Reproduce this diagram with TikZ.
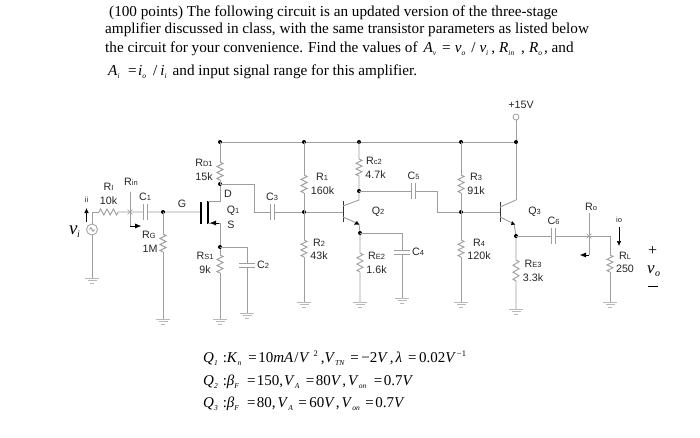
\documentclass[tikz,border=0pt]{standalone}
\usepackage{fontspec}
\setmainfont{Liberation Serif}
\newfontfamily\arialf{Liberation Sans}
\usetikzlibrary{arrows.meta}
\definecolor{wire}{gray}{0.62}
\definecolor{gndc}{gray}{0.72}
\tikzset{
 x=1pt,y=-1pt,
 wr/.style={draw=wire,line width=0.9pt},
 gw/.style={draw=gndc,line width=0.8pt},
 term/.style={circle,fill=black,inner sep=0,minimum size=4pt},
 lab/.style={font=\arialf\fontsize{10.7}{12}\selectfont,text=black!85,inner sep=0,align=center},
 small/.style={font=\arialf\fontsize{7.5}{8}\selectfont,text=black!85,inner sep=0},
 para/.style={font=\fontsize{15.2}{17}\selectfont,text=black,inner sep=0,anchor=base west},
 eqn/.style={font=\fontsize{15}{17}\selectfont,text=black,inner sep=0,anchor=base west},
 arr/.style={-{Latex[length=5pt,width=4.5pt]},black,line width=0.6pt},
}
\newcommand{\sbs}[1]{\raisebox{-3pt}{\fontsize{7.5}{8}\selectfont\itshape #1}}
\newcommand{\spp}[1]{\raisebox{6pt}{\fontsize{8.5}{9}\selectfont #1}}
\newcommand{\ii}[1]{\textit{#1}}
\newcommand{\hs}[1]{\hspace{#1pt}}
\newcommand{\lsb}[1]{\scalebox{.7}{#1}}
\newcommand{\vres}[3]{%
 \pgfmathsetmacro{\hh}{(#3-#2)/6}
 \draw[wr] (#1,#2) -- ++(3,{\hh/2}) -- ++(-6,\hh) -- ++(6,\hh) -- ++(-6,\hh) -- ++(6,\hh) -- ++(-6,\hh) -- ++(3,{\hh/2});}
\newcommand{\gnd}[2]{%
 \draw[gw] (#1-7,#2) -- (#1+7,#2) (#1-4.5,#2+2.5) -- (#1+4.5,#2+2.5) (#1-2,#2+5) -- (#1+2,#2+5);}
\newcommand{\hcap}[2]{%
 \draw[wr] (#1-8,#2-2) -- (#1+8,#2-2) (#1-8,#2+2) -- (#1+8,#2+2);}
\begin{document}
\begin{tikzpicture}
\useasboundingbox (0,0) rectangle (700,438);
\fill[white] (0,0) rectangle (700,438);
% text
\node[para] (t1) at (109,17) {(100 points) The following circuit is an updated version of the three-stage};
\node[para] (t2) at (105,34) {amplifier discussed in class, with the same transistor parameters as listed below};
\node[para] (t3) at (105,53) {the circuit for your convenience. Find the values of\hs{6}\ii{A}\sbs{v}\hs{6}=\hs{4}\ii{v}\sbs{o}\hs{6}/\hs{4}\ii{v}\sbs{i}\hs{3},\hs{4}\ii{R}\sbs{in}\hs{7},\hs{4}\ii{R}\sbs{o}\hs{2}, and};
\node[para] (t4) at (108,76) {\ii{A}\sbs{i}\hs{8.5}=\hs{1.5}\ii{i}\sbs{o}\hs{7}/\hs{3}\ii{i}\sbs{i}\hs{6}and input signal range for this amplifier.};
% rail
\node[circle,draw=wire,line width=0.8pt,inner sep=0,minimum size=6pt] (vcc) at (516,117) {};
\node[lab] (vl) at (521,105) {+15V};
\draw[wr] (220,142) -- (516,142) (vcc) -- (516,142) -- (516,200);
\node[term] (d1) at (220,142) {};
\node[term] (d2) at (304,142) {};
\node[term] (d3) at (359,142) {};
\node[term] (d4) at (461,142) {};
\node[term] (d5) at (516,142) {};
% source
\node[circle,draw=wire,line width=0.8pt,inner sep=0,minimum size=11pt] (vs) at (92,229.5) {};
\draw[wr] (89.5,229.5) .. controls (90.5,227) and (91.5,227) .. (92,229.5) .. controls (92.5,232) and (93.5,232) .. (94.5,229.5);
\draw[wr] (vs) -- (92,212) -- (99,212) (vs) -- (92,278);
\gnd{92}{278}
\draw[arr] (86.5,222) -- (86.5,208);
\node[small] (ii) at (86.5,200) {ii};
\node[eqn,font=\fontsize{19}{20}\selectfont\itshape] (vi) at (69,234) {v};
\node[eqn,font=\fontsize{10}{12}\selectfont\itshape] (vis) at (77,237) {i};
% input
\draw[wr] (99,212) -- ++(1.6,-3) -- ++(3.2,6) -- ++(3.2,-6) -- ++(3.2,6) -- ++(3.2,-6) -- ++(3.2,6) -- ++(1.6,-3) -- (143,212) (147,212) -- (201,212);
\draw[wr] (143,204) -- (143,220) (147,204) -- (147,220);
\node[lab] (rl) at (108.5,187) {R\lsb{I}};
\node[lab] (rv) at (108.5,201) {10k};
\node[lab] (rinl) at (131,182) {R\lsb{in}};
\node[lab] (c1) at (145,197) {C\lsb{1}};
\draw[wr] (130,192) -- (130,226);
\draw[wr,line width=0.6pt] (127.5,209.5) -- (132.5,214.5) (127.5,214.5) -- (132.5,209.5);
\draw[-{Latex[length=6pt,width=5pt]},black] (130,226) -- (141,226);
\node[term] (g) at (163,212) {};
\node[lab] (gl) at (182,204) {G};
\vres{163}{234}{252}
\draw[wr] (163,212) -- (163,234) (163,252) -- (163,319);
\gnd{163}{319}
\node[lab] (rg) at (149,235) {R\lsb{G}};
\node[lab] (rgv) at (150,249) {1M};
% Q1
\draw[black,line width=1.5pt] (201,202) -- (201,224) (208,201) -- (208,224);
\draw[wr] (208,201) -- (220,201) -- (220,184);
\draw[wr] (208,223) -- (220,223) -- (220,255);
\draw[-{Latex[length=6pt,width=5pt]},black] (219,223) -- (210,223);
\node[lab] (dl) at (228,194) {D};
\node[lab] (ql) at (233,211) {Q\lsb{1}};
\node[lab] (sl) at (231,225) {S};
\node[term] (dd) at (220,184) {};
\node[term] (ss) at (220,247) {};
\draw[wr] (220,142) -- (220,162) (220,180) -- (220,184);
\vres{220}{162}{180}
\node[lab] (rd) at (204,163) {R\lsb{D1}};
\node[lab] (rdv) at (204,177) {15k};
\vres{220}{255}{273}
\draw[wr] (220,273) -- (220,319);
\gnd{220}{319}
\node[lab] (rs) at (205,256) {R\lsb{S1}};
\node[lab] (rsv) at (205,270) {9k};
\draw[wr] (220,247) -- (247,247) -- (247,263) (247,267) -- (247,313);
\hcap{247}{265}
\gnd{247}{313}
\node[lab] (c2) at (263,265) {C\lsb{2}};
% coupling C3
\draw[wr] (220,184) -- (254,184) -- (254,212) -- (270,212) (274,212) -- (343,212);
\draw[wr] (270,204) -- (270,220) (274,204) -- (274,220);
\node[lab] (c3) at (272,197) {C\lsb{3}};
% R1 R2
\node[term] (b2) at (304,212) {};
\draw[wr] (304,142) -- (304,175) (304,193) -- (304,240) (304,257) -- (304,302);
\vres{304}{175}{193}
\vres{304}{240}{257}
\gnd{304}{302}
\node[lab] (r1) at (322,177) {R\lsb{1}};
\node[lab] (r1v) at (322.5,191) {160k};
\node[lab] (r2) at (319,243) {R\lsb{2}};
\node[lab] (r2v) at (319,256) {43k};
% Q2
\draw[black!80,line width=0.9pt] (343,201) -- (343,222);
\draw[wr] (343,206) -- (359,200) -- (359,176) (359,142) -- (359,159);
\vres{359}{159}{176}
\node[term] (c2d) at (359,191) {};
\draw[wr] (343,217) -- (359,224) -- (360,233) -- (360,253) (360,272) -- (360,302);
\fill[black] (357,221) -- (359,224.5) -- (354,224.5) -- cycle;
\node[term] (e2) at (360,233) {};
\vres{360}{253}{272}
\gnd{360}{302}
\node[lab] (rc) at (374,161) {R\lsb{c2}};
\node[lab] (rcv) at (375.5,175) {4.7k};
\node[lab] (q2) at (378,212) {Q\lsb{2}};
\node[lab] (re2) at (376.5,256) {R\lsb{E2}};
\node[lab] (re2v) at (376.5,270) {1.6k};
\draw[wr] (360,233) -- (402,233) -- (402,250) (402,254) -- (402,298);
\hcap{402}{252}
\gnd{402}{298}
\node[lab] (c4) at (418,252) {C\lsb{4}};
% C5
\draw[wr] (359,191) -- (411,191) (415,191) -- (437,191) -- (437,212) -- (500,212);
\draw[wr] (411,183) -- (411,199) (415,183) -- (415,199);
\node[lab] (c5) at (413.5,176) {C\lsb{5}};
\node[term] (b3) at (461,212) {};
\draw[wr] (461,142) -- (461,175) (461,193) -- (461,240) (461,257) -- (461,302);
\vres{461}{175}{193}
\vres{461}{240}{257}
\gnd{461}{302}
\node[lab] (r3) at (476,177) {R\lsb{3}};
\node[lab] (r3v) at (476,191) {91k};
\node[lab] (r4) at (479,243) {R\lsb{4}};
\node[lab] (r4v) at (479,256) {120k};
% Q3
\draw[black!80,line width=0.9pt] (500,202) -- (500,222);
\draw[wr] (500,207) -- (516,200);
\draw[wr] (500,217) -- (514,224) -- (516,236) -- (516,260) (516,281) -- (516,309);
\fill[black] (512,221) -- (515,224.5) -- (511,225) -- cycle;
\node[term] (e3) at (516,236) {};
\vres{516}{260}{281}
\gnd{516}{309}
\node[lab] (q3) at (534.5,212) {Q\lsb{3}};
\node[lab] (re3) at (533,264) {R\lsb{E3}};
\node[lab] (re3v) at (533,278) {3.3k};
\draw[wr] (516,236) -- (551,236) (555,236) -- (610,236) -- (610,255) (610,272) -- (610,302);
\draw[wr] (551,228) -- (551,244) (555,228) -- (555,244);
\node[lab] (c6) at (553.5,221) {C\lsb{6}};
\node[lab] (ro) at (591,207) {R\lsb{o}};
\draw[wr] (589,213) -- (589,255);
\draw[wr,line width=0.6pt] (586.5,233.5) -- (591.5,238.5) (586.5,238.5) -- (591.5,233.5);
\draw[-{Latex[length=6pt,width=5pt]},black] (589,255) -- (580,255);
\node[small] (io) at (619,220) {io};
\draw[arr] (619,227) -- (619,246);
\vres{610}{255}{272}
\gnd{610}{302}
\node[lab] (rll) at (625,256) {R\lsb{L}};
\node[lab] (rlv) at (625,269) {250};
\node[eqn,font=\fontsize{16}{18}\selectfont] (pl) at (648,255) {+};
\node[eqn,font=\fontsize{17}{18}\selectfont\itshape] (vo) at (647,273) {v};
\node[eqn,font=\fontsize{10}{12}\selectfont\itshape] (vos) at (655,276) {o};
\node[eqn,font=\fontsize{18}{20}\selectfont] (mn) at (648,286.5) {\rule{10pt}{0.7pt}};
% params
\node[eqn] (e1) at (203,362) {\ii{Q}\sbs{1}\hs{5}:\ii{K}\sbs{n}\hs{7}=\hs{1.5}10\ii{mA}\hs{1}/\hs{0.5}\ii{V}\hs{4}\spp{2}\hs{3},\ii{V}\sbs{TN}\hs{6}=\hs{2.5}−2\ii{V}\hs{2},\hs{2}\ii{λ}\hs{6}=\hs{2.5}0.02\ii{V}\hs{1}\spp{−1}};
\node[eqn] (e2t) at (203,385) {\ii{Q}\sbs{2}\hs{5}:\ii{β}\sbs{F}\hs{8}=\hs{1.5}150,\hs{1}\ii{V}\sbs{A}\hs{6.5}=\hs{1.5}80\ii{V}\hs{1},\hs{2}\ii{V}\sbs{on}\hs{7.5}=\hs{1.5}0.7\ii{V}};
\node[eqn] (e3t) at (203,407) {\ii{Q}\sbs{3}\hs{5}:\ii{β}\sbs{F}\hs{8}=\hs{1.5}80,\hs{2}\ii{V}\sbs{A}\hs{5.5}=\hs{2.5}60\ii{V}\hs{1},\hs{2}\ii{V}\sbs{on}\hs{5.5}=\hs{1.5}0.7\ii{V}};
\end{tikzpicture}
\end{document}
